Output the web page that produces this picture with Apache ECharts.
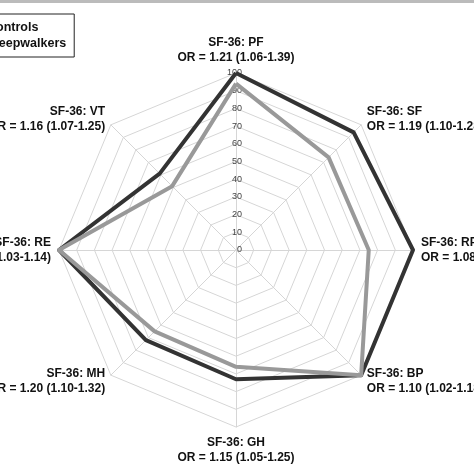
<!DOCTYPE html>
<html><head><meta charset="utf-8">
<script src="https://cdn.jsdelivr.net/npm/echarts@6/dist/echarts.min.js"></script>
<style>html,body{margin:0;padding:0;background:#fff}#c{width:474px;height:474px}</style>
</head><body><div id="c"></div>
<script>
// listed counter-clockwise from top (ECharts radar order)
const axes = ['SF-36: PF\nOR = 1.21 (1.06-1.39)','SF-36: VT\nOR = 1.16 (1.07-1.25)','SF-36: RE\nOR = 1.08 (1.03-1.14)','SF-36: MH\nOR = 1.20 (1.10-1.32)','SF-36: GH\nOR = 1.15 (1.05-1.25)','SF-36: BP\nOR = 1.10 (1.02-1.18)','SF-36: RP\nOR = 1.08 (1.03-1.13)','SF-36: SF\nOR = 1.19 (1.10-1.28)'];
const controls = [100, 61, 100, 72, 73, 100, 100, 94];
const sleepwalkers = [94, 51, 100, 65, 66, 100, 75, 74];
const seriesNames = ['Controls','Sleepwalkers'];
const chart = echarts.init(document.getElementById('c'));
chart.setOption({
  animation:false,
  textStyle:{fontFamily:'Liberation Sans'},
  graphic:[{type:'rect',shape:{x:0,y:0,width:474,height:3},style:{fill:'#bbb'}}],
  legend:{data:seriesNames,orient:'vertical',left:-56,top:14,padding:[7,8,7,8],itemGap:3,
    borderColor:'#222',borderWidth:1,itemWidth:30,itemHeight:4,
    textStyle:{fontSize:12.5,fontWeight:'bold',color:'#111'}},
  radar:{center:[236,250],radius:177,startAngle:90,shape:'polygon',splitNumber:10,min:0,max:100,
    indicator:axes.map(n=>({name:n,max:100,min:0})),
    axisName:{color:'#111',fontSize:12,fontWeight:'bold',lineHeight:15},
    nameGap:8,
    splitLine:{lineStyle:{color:'#d6d6d6',width:1}},splitArea:{show:false},
    axisLine:{lineStyle:{color:'#d6d6d6'}},axisLabel:{show:false}},
  polar:{center:[236,250],radius:177},
  angleAxis:{show:false,min:0,max:360,startAngle:90},
  radiusAxis:{min:0,max:100,interval:10,axisLine:{show:false},axisTick:{show:false},splitLine:{show:false},
    axisLabel:{show:true,fontSize:9,color:'#444',margin:-6,align:'right'}},
  series:[{type:'radar',symbol:'none',data:[
    {name:seriesNames[0],value:controls,lineStyle:{color:'#333',width:4},itemStyle:{color:'#333'}},
    {name:seriesNames[1],value:sleepwalkers,lineStyle:{color:'#999',width:4},itemStyle:{color:'#999'}}]}]
});
</script></body></html>
